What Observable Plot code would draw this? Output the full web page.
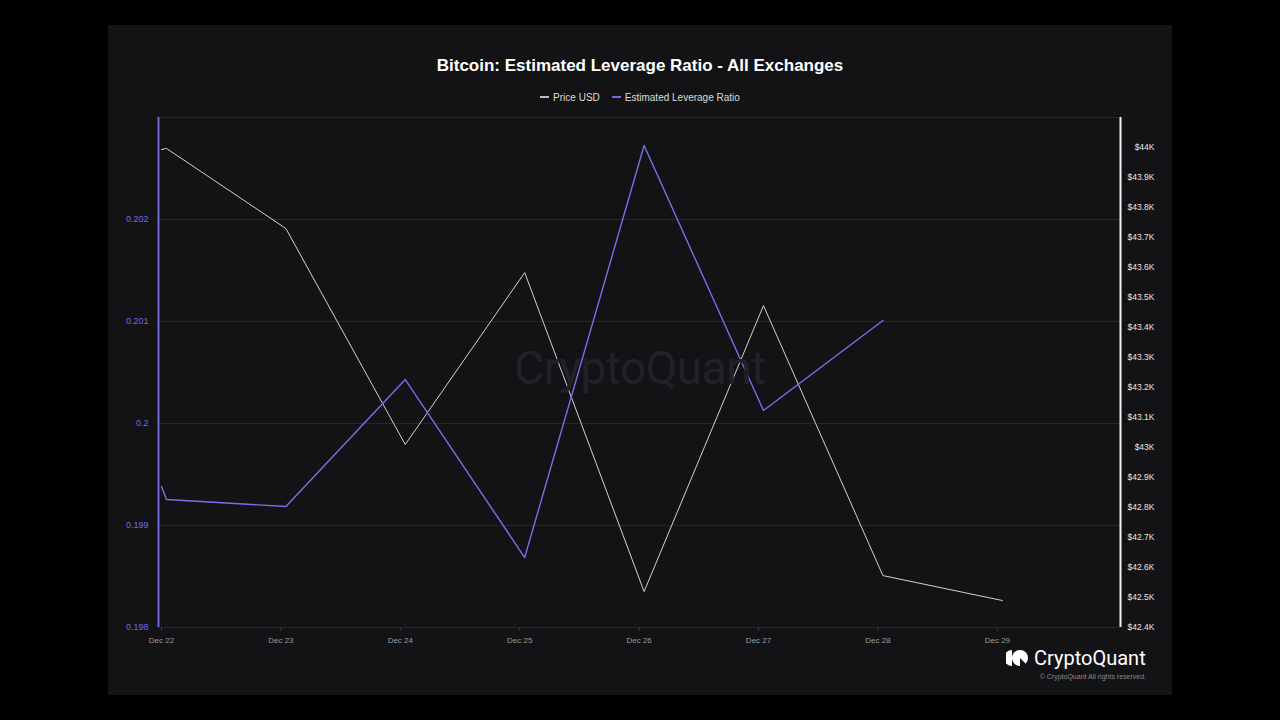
<!DOCTYPE html>
<html>
<head>
<meta charset="utf-8">
<script src="https://cdn.jsdelivr.net/npm/d3@7"></script>
<script src="https://cdn.jsdelivr.net/npm/@observablehq/plot@0.6"></script>
<style>
  html, body { margin: 0; padding: 0; background: #000; width: 1280px; height: 720px; overflow: hidden; font-family: "Liberation Sans", Arial, sans-serif; }
  #panel { position: absolute; left: 108px; top: 25px; width: 1064px; height: 670px; background: #131316; }
  #title { position: absolute; left: 0; width: 1064px; top: 31px; text-align: center; color: #fff; font-weight: bold; font-size: 17px; }
  #legend { position: absolute; left: 0; width: 1064px; top: 67px; text-align: center; color: #dcdcdc; font-size: 10px; }
  #legend span.item { margin: 0 6px; }
  #legend span.sw { display: inline-block; width: 9px; height: 0; border-top-width: 2px; border-top-style: solid; vertical-align: middle; margin-right: 4px; position: relative; top: -1px; }
  #chart { position: absolute; left: 0; top: 80px; }
  #watermark { position: absolute; left: 0; width: 1064px; top: 316px; text-align: center; color: #212127; font-family: Roboto, "Open Sans", sans-serif; font-size: 46px; letter-spacing: -0.5px; }
  #logo { position: absolute; left: 898px; top: 621px; color: #fff; font-family: Roboto, "Open Sans", sans-serif; font-size: 20px; display: flex; align-items: center; }
  #logo svg { margin-right: 6px; }
  #copy { position: absolute; left: 930px; top: 648px; width: 108px; text-align: right; color: #8a8a8e; font-size: 7px; }
</style>
</head>
<body>
<div id="panel">
  <div id="title">Bitcoin: Estimated Leverage Ratio - All Exchanges</div>
  <div id="legend"><span class="item"><span class="sw" style="border-top-color:#bdbdbd"></span>Price USD</span><span class="item"><span class="sw" style="border-top-color:#6f6be6"></span>Estimated Leverage Ratio</span></div>
  <div id="chart"></div>
  <div id="watermark">CryptoQuant</div>
  <div id="logo"><svg width="22" height="18" viewBox="0 0 22 18"><path d="M6 1 A8 8 0 0 0 6 17 Z" fill="#fff"/><circle cx="14" cy="9" r="8" fill="#fff"/><path d="M14 9 L22 17 L14 17 Z" fill="#131316"/></svg>CryptoQuant</div>
  <div id="copy">© CryptoQuant All rights reserved.</div>
</div>
<script>
// ---- data ----
const priceTimes = [
  "2023-12-22T00:00Z", "2023-12-22T01:00Z", "2023-12-23T01:00Z", "2023-12-24T01:00Z",
  "2023-12-25T01:00Z", "2023-12-26T01:00Z", "2023-12-27T01:00Z", "2023-12-28T01:00Z", "2023-12-29T01:00Z"
];
const priceUSD = [43993, 43997, 43730, 43010, 43583, 42520, 43473, 42573, 42490];

const leverageTimes = [
  "2023-12-22T00:00Z", "2023-12-22T01:00Z", "2023-12-23T01:00Z", "2023-12-24T01:00Z",
  "2023-12-25T01:00Z", "2023-12-26T01:00Z", "2023-12-27T01:00Z", "2023-12-28T01:00Z"
];
const leverageRatio = [0.199382, 0.199255, 0.199186, 0.200431, 0.198686, 0.202725, 0.200127, 0.201010];

const xTickDates = ["2023-12-22", "2023-12-23", "2023-12-24", "2023-12-25", "2023-12-26", "2023-12-27", "2023-12-28", "2023-12-29"];
const leverageTicks = [0.198, 0.199, 0.2, 0.201, 0.202];
const leverageGrid = [0.198, 0.199, 0.2, 0.201, 0.202, 0.203];
const priceTicks = [42400, 42500, 42600, 42700, 42800, 42900, 43000, 43100, 43200, 43300, 43400, 43500, 43600, 43700, 43800, 43900, 44000];

const xDomain = [new Date("2023-12-21T23:24Z"), new Date("2023-12-30T00:45Z")];
const leverageDomain = [0.198, 0.203];
const priceDomain = [42400, 44100];

// ---- build ----
const toLev = d3.scaleLinear().domain(priceDomain).range(leverageDomain);
const priceRows = priceTimes.map((t, i) => ({ date: new Date(t), v: toLev(priceUSD[i]) }));
const levRows = leverageTimes.map((t, i) => ({ date: new Date(t), v: leverageRatio[i] }));
const xTicks = xTickDates.map(s => new Date(s + "T00:00Z"));
const fmtDate = d3.utcFormat("%b %d");
const fmtPrice = v => {
  const p = Math.round(toLev.invert(v));
  const k = p / 1000;
  return "$" + (+k.toFixed(1)) + "K";
};

const chart = Plot.plot({
  width: 1064,
  height: 590,
  marginLeft: 50,
  marginRight: 52,
  marginTop: 12,
  marginBottom: 68,
  style: { background: "transparent", fontFamily: "Liberation Sans, Arial, sans-serif" },
  x: { type: "utc", domain: xDomain, label: null },
  y: { domain: leverageDomain, label: null },
  marks: [
    Plot.ruleY(leverageGrid, { stroke: "#26262c", strokeWidth: 1 }),
    Plot.axisX({ ticks: xTicks, tickFormat: fmtDate, tickSize: 4, tickPadding: 6, stroke: "#3a3a40", fill: "#9a9a9e", fontSize: 8, label: null }),
    Plot.axisY({ anchor: "left", ticks: leverageTicks, tickFormat: d => String(+d.toFixed(3)), tickSize: 0, tickPadding: 10, fill: "#6f6be0", fontSize: 9, label: null }),
    Plot.axisY({ anchor: "right", ticks: priceTicks.map(p => toLev(p)), tickFormat: fmtPrice, tickSize: 0, tickPadding: 0, textAnchor: "end", dx: 34, fill: "#e6e6e6", fontSize: 8.5, label: null }),
    Plot.ruleX([xDomain[0]], { stroke: "#6d68dc", strokeWidth: 2 }),
    Plot.ruleX([xDomain[1]], { stroke: "#f2f2f2", strokeWidth: 2 }),
    Plot.line(priceRows, { x: "date", y: "v", stroke: "#d2d2d2", strokeWidth: 1 }),
    Plot.line(levRows, { x: "date", y: "v", stroke: "#7571ea", strokeWidth: 1.4 })
  ]
});
document.getElementById("chart").appendChild(chart);
</script>
</body>
</html>
